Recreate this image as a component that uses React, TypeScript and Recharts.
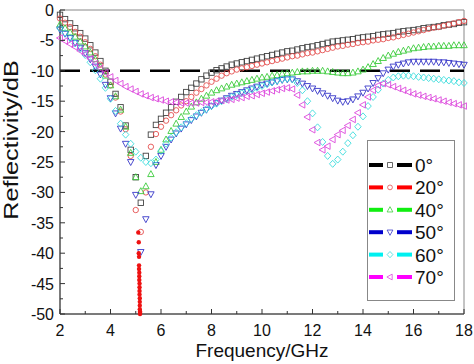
import React from 'react';
import { ScatterChart, Scatter, XAxis, YAxis, ReferenceLine, ReferenceArea, Legend } from 'recharts';

// frequency grid, GHz
const freq = [
  2.0, 2.2, 2.4, 2.6, 2.8, 3.0, 3.2, 3.4, 3.6, 3.8,
  4.0, 4.2, 4.4, 4.6, 4.8, 5.0, 5.2, 5.4, 5.6, 5.8,
  6.0, 6.2, 6.4, 6.6, 6.8, 7.0, 7.2, 7.4, 7.6, 7.8,
  8.0, 8.2, 8.4, 8.6, 8.8, 9.0, 9.2, 9.4, 9.6, 9.8,
  10.0, 10.2, 10.4, 10.6, 10.8, 11.0, 11.2, 11.4, 11.6, 11.8,
  12.0, 12.2, 12.4, 12.6, 12.8, 13.0, 13.2, 13.4, 13.6, 13.8,
  14.0, 14.2, 14.4, 14.6, 14.8, 15.0, 15.2, 15.4, 15.6, 15.8,
  16.0, 16.2, 16.4, 16.6, 16.8, 17.0, 17.2, 17.4, 17.6, 17.8,
  18.0,
];

// reflectivity (dB) per incidence angle
const refl0 = [
  -0.8, -1.5, -2.2, -3.0, -3.8, -4.7, -5.8, -7.0, -8.4, -10.0,
  -11.8, -13.8, -16.0, -19.0, -23.0, -27.5, -31.7, -24.0, -20.5, -18.9,
  -17.9, -16.9, -16.0, -15.1, -14.3, -13.5, -12.8, -12.1, -11.4, -10.8,
  -10.3, -9.9, -9.6, -9.3, -9.0, -8.8, -8.6, -8.4, -8.2, -8.0,
  -7.8, -7.6, -7.4, -7.2, -7.0, -6.8, -6.7, -6.5, -6.3, -6.1,
  -6.0, -5.8, -5.6, -5.4, -5.2, -5.1, -5.0, -4.9, -4.8, -4.6,
  -4.5, -4.4, -4.3, -4.1, -4.0, -3.9, -3.8, -3.6, -3.5, -3.4,
  -3.3, -3.2, -3.0, -2.9, -2.8, -2.7, -2.5, -2.4, -2.3, -2.1,
  -2.0,
];
const refl20 = [
  -1.4, -2.1, -2.8, -3.6, -4.4, -5.3, -6.4, -7.6, -9.0, -10.6,
  -12.4, -14.4, -16.7, -19.6, -24.0, -32.9, -36.5, -30.0, -22.5, -20.4,
  -19.2, -18.2, -17.3, -16.5, -15.7, -15.0, -14.3, -13.6, -13.0, -12.4,
  -11.8, -11.3, -10.8, -10.4, -10.1, -9.8, -9.6, -9.4, -9.2, -9.0,
  -8.8, -8.6, -8.4, -8.2, -8.0, -7.8, -7.6, -7.5, -7.3, -7.1,
  -7.0, -6.8, -6.6, -6.4, -6.2, -6.0, -5.9, -5.7, -5.6, -5.4,
  -5.3, -5.2, -5.0, -4.9, -4.8, -4.6, -4.5, -4.3, -4.1, -3.9,
  -3.7, -3.5, -3.3, -3.1, -2.9, -2.8, -2.6, -2.4, -2.2, -2.0,
  -1.8,
];
// the 20° resonance runs off the bottom of the axis
const deepFreq20 = [5.1, 5.12, 5.12, 5.13, 5.13, 5.13, 5.14, 5.14, 5.14, 5.15, 5.15, 5.15, 5.15, 5.16, 5.16, 5.16, 5.16, 5.17, 5.17, 5.17];
const deepRefl20 = [-36.6, -38.2, -40.0, -40.6, -42.0, -42.6, -43.2, -43.8, -44.4, -45.0, -45.6, -46.2, -46.8, -47.4, -48.0, -48.6, -49.2, -49.6, -49.8, -50.0];
const refl40 = [
  -2.4, -3.0, -3.7, -4.4, -5.2, -6.0, -7.0, -8.1, -9.4, -10.8,
  -12.4, -14.2, -16.4, -19.2, -23.5, -27.5, -29.8, -29.0, -27.0, -25.0,
  -23.0, -21.3, -19.9, -18.7, -17.6, -16.7, -15.9, -15.2, -14.6, -14.1,
  -13.6, -13.2, -12.9, -12.6, -12.3, -12.1, -11.9, -11.7, -11.5, -11.3,
  -11.1, -11.0, -10.8, -10.7, -10.5, -10.4, -10.3, -10.2, -10.1, -10.1,
  -10.0, -10.0, -10.0, -10.1, -10.2, -10.3, -10.4, -10.4, -10.3, -10.1,
  -9.8, -9.4, -8.9, -8.4, -7.9, -7.5, -7.2, -6.9, -6.7, -6.5,
  -6.3, -6.2, -6.1, -6.0, -6.0, -5.9, -5.9, -5.9, -5.8, -5.8,
  -5.8,
];
const refl50 = [
  -3.2, -3.9, -4.6, -5.4, -6.2, -7.1, -8.1, -9.3, -10.6, -12.3,
  -14.5, -17.0, -19.5, -22.0, -25.0, -30.4, -39.8, -34.4, -30.3, -25.5,
  -24.0, -22.5, -21.3, -20.3, -19.5, -18.8, -18.1, -17.5, -16.9, -16.4,
  -15.8, -15.3, -14.9, -14.5, -14.1, -13.8, -13.5, -13.2, -12.9, -12.6,
  -12.3, -12.1, -11.9, -11.7, -11.5, -11.4, -11.4, -11.7, -12.1, -12.5,
  -12.9, -13.3, -13.7, -14.1, -14.5, -14.9, -15.1, -15.0, -14.7, -14.2,
  -13.6, -12.9, -12.0, -11.2, -10.4, -9.8, -9.3, -9.0, -8.8, -8.6,
  -8.5, -8.5, -8.5, -8.5, -8.5, -8.6, -8.6, -8.7, -8.8, -8.9,
  -9.0,
];
const refl60 = [
  -3.0, -3.8, -4.6, -5.5, -6.4, -7.4, -8.6, -9.9, -11.3, -12.8,
  -14.6, -16.6, -18.7, -20.5, -22.0, -23.3, -24.3, -25.0, -25.2, -24.6,
  -23.2, -22.0, -21.0, -20.1, -19.3, -18.6, -17.9, -17.3, -16.8, -16.3,
  -15.8, -15.4, -15.0, -14.7, -14.3, -14.0, -13.7, -13.4, -13.1, -12.8,
  -12.5, -12.2, -11.9, -11.6, -11.4, -11.3, -11.4, -12.0, -13.2, -15.0,
  -17.0, -19.3, -21.7, -24.0, -25.3, -24.6, -23.3, -21.9, -20.6, -19.2,
  -17.5, -15.8, -14.3, -13.1, -12.1, -11.5, -11.1, -10.9, -10.8, -10.8,
  -10.9, -11.0, -11.1, -11.2, -11.3, -11.4, -11.5, -11.6, -11.7, -11.9,
  -12.0,
];
const refl70 = [
  -4.6, -5.1, -5.6, -6.1, -6.7, -7.3, -8.0, -8.8, -9.6, -10.3,
  -11.0, -11.6, -12.1, -12.6, -13.0, -13.4, -13.8, -14.1, -14.4, -14.6,
  -14.8, -15.0, -15.1, -15.2, -15.3, -15.3, -15.3, -15.3, -15.2, -15.2,
  -15.1, -15.0, -14.9, -14.8, -14.7, -14.5, -14.4, -14.2, -14.1, -13.9,
  -13.7, -13.5, -13.3, -13.1, -12.9, -12.8, -13.0, -14.0, -15.6, -17.6,
  -19.7, -21.8, -23.0, -22.4, -21.3, -20.5, -19.8, -19.0, -18.0, -16.9,
  -15.6, -14.3, -13.2, -12.4, -12.1, -12.3, -12.6, -12.9, -13.2, -13.5,
  -13.8, -14.0, -14.2, -14.4, -14.6, -14.8, -15.0, -15.2, -15.4, -15.6,
  -15.8,
];

const xTicks = [2, 3, 4, 5, 6, 7, 8, 9, 10, 11, 12, 13, 14, 15, 16, 17, 18];
const yTicks = [-50, -47.5, -45, -42.5, -40, -37.5, -35, -32.5, -30, -27.5, -25, -22.5, -20, -17.5, -15, -12.5, -10, -7.5, -5, -2.5, 0];

const series = [
  { name: '0°', values: refl0, kind: 'square', mark: '#444444', line: '#000000' },
  { name: '20°', values: refl20, kind: 'circle', mark: '#e45050', line: '#ff0000' },
  { name: '40°', values: refl40, kind: 'up', mark: '#3ccc3c', line: '#11ee11' },
  { name: '50°', values: refl50, kind: 'down', mark: '#3838c8', line: '#0000cc' },
  { name: '60°', values: refl60, kind: 'diamond', mark: '#3cdcdc', line: '#00f0f0' },
  { name: '70°', values: refl70, kind: 'left', mark: '#dc48dc', line: '#ff00ff' },
];

const FONT = 'Arial, "Liberation Sans", sans-serif';

function Marker({ cx, cy, kind, color, s = 2.7, sw = 0.9 }: any) {
  if (cx == null || cy == null) return null;
  const common = { fill: 'none', stroke: color, strokeWidth: sw };
  if (kind === 'square') return <rect x={cx - s} y={cy - s} width={2 * s} height={2 * s} {...common} />;
  if (kind === 'circle') return <circle cx={cx} cy={cy} r={s} {...common} />;
  let pts = '';
  if (kind === 'up') pts = `${cx},${cy - s * 1.3} ${cx + s * 1.2},${cy + s * 0.9} ${cx - s * 1.2},${cy + s * 0.9}`;
  if (kind === 'down') pts = `${cx},${cy + s * 1.3} ${cx + s * 1.2},${cy - s * 0.9} ${cx - s * 1.2},${cy - s * 0.9}`;
  if (kind === 'diamond') pts = `${cx},${cy - s * 1.3} ${cx + s * 1.2},${cy} ${cx},${cy + s * 1.3} ${cx - s * 1.2},${cy}`;
  if (kind === 'left') pts = `${cx - s * 1.3},${cy} ${cx + s * 0.9},${cy - s * 1.2} ${cx + s * 0.9},${cy + s * 1.2}`;
  return <polygon points={pts} {...common} />;
}

function XTick({ x, y, payload }: any) {
  const major = payload.value % 2 === 0;
  return (
    <g>
      <line x1={x} y1={y} x2={x} y2={y - (major ? 5 : 3)} stroke="#333" />
      {major && (
        <text x={x} y={y + 22} textAnchor="middle" fontSize={16} fontFamily={FONT} fill="#111">
          {payload.value}
        </text>
      )}
    </g>
  );
}

function YTick({ x, y, payload }: any) {
  const major = payload.value % 5 === 0;
  return (
    <g>
      <line x1={x} y1={y} x2={x + (major ? 5 : 3)} y2={y} stroke="#333" />
      {major && (
        <text x={x - 6} y={y + 6} textAnchor="end" fontSize={16} fontFamily={FONT} fill="#111">
          {payload.value}
        </text>
      )}
    </g>
  );
}

function LegendBox() {
  return (
    <svg width={88} height={161} style={{ display: 'block' }}>
      <rect x={0.5} y={0.5} width={87} height={160} fill="#fff" stroke="#888" />
      {series.map((s, i) => {
        const cy = 25 + i * 22.4;
        return (
          <g key={s.name}>
            <line x1={2} y1={cy} x2={16} y2={cy} stroke={s.line} strokeWidth={4} />
            <line x1={30} y1={cy} x2={45} y2={cy} stroke={s.line} strokeWidth={4} />
            <Marker cx={23} cy={cy} kind={s.kind} color={s.mark} s={2.4} sw={0.8} />
            <text x={48} y={cy + 7} fontSize={19} fontFamily={FONT} fill="#111">{s.name}</text>
          </g>
        );
      })}
    </svg>
  );
}

export default function App() {
  const deep20 = deepFreq20.map((f, i) => ({ f, v: deepRefl20[i] }));
  return (
    <div style={{ position: 'absolute', left: 0, top: 0, width: 474, height: 364, background: '#fff' }}>
      <ScatterChart width={474} height={364} margin={{ top: 10, right: 10, bottom: 0, left: 0 }}>
        <XAxis
          type="number"
          dataKey="f"
          domain={[2, 18]}
          ticks={xTicks}
          interval={0}
          tickSize={0}
          tickMargin={0}
          tickLine={false}
          axisLine={{ stroke: '#333' }}
          height={50}
          tick={(p: any) => <XTick {...p} />}
          label={{
            content: ({ viewBox }: any) => (
              <text x={viewBox.x + viewBox.width / 2} y={viewBox.y + 43} textAnchor="middle" fontSize={19} fontFamily={FONT} fill="#111">
                Frequency/GHz
              </text>
            ),
          }}
        />
        <YAxis
          type="number"
          dataKey="v"
          domain={[-50, 0]}
          ticks={yTicks}
          interval={0}
          tickSize={0}
          tickMargin={0}
          tickLine={false}
          axisLine={{ stroke: '#333' }}
          width={60}
          tick={(p: any) => <YTick {...p} />}
          label={{
            content: ({ viewBox }: any) => {
              const cx = viewBox.x + 18;
              const cy = viewBox.y + viewBox.height / 2 - 22;
              return (
                <text transform={`translate(${cx} ${cy}) rotate(-90) scale(1.2 1)`} x={0} y={0} textAnchor="middle" fontSize={21} fontFamily={FONT} fill="#111">
                  Reflectivity/dB
                </text>
              );
            },
          }}
        />
        <ReferenceArea x1={2} x2={18} y1={-50} y2={0} fill="none" stroke="#888" />
        {series.map((s) => (
          <Scatter
            key={s.name}
            name={s.name}
            data={freq.map((f, i) => ({ f, v: s.values[i] }))}
            isAnimationActive={false}
            shape={(p: any) => <Marker cx={p.cx} cy={p.cy} kind={s.kind} color={s.mark} />}
          />
        ))}
        <Scatter
          name="20° deep"
          data={deep20}
          isAnimationActive={false}
          legendType="none"
          shape={(p: any) => <circle cx={p.cx} cy={p.cy} r={2.2} fill="#ee1111" />}
        />
        <ReferenceLine y={-10} stroke="#000" strokeWidth={2.5} strokeDasharray="20 10" />
        <Legend
          layout="vertical"
          align="center"
          verticalAlign="middle"
          wrapperStyle={{ left: 367, top: 140, width: 88, height: 161 }}
          content={() => <LegendBox />}
        />
      </ScatterChart>
    </div>
  );
}
